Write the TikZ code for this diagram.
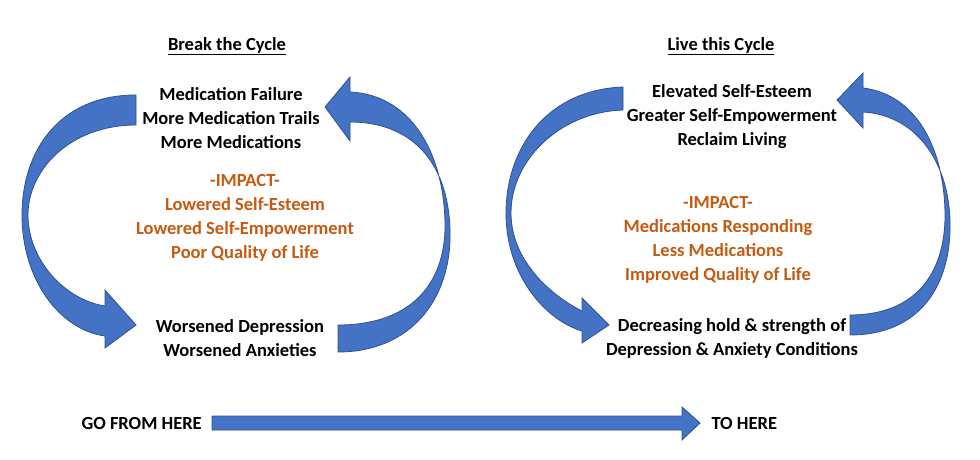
\documentclass[tikz,border=0pt]{standalone}
\usepackage{fontspec}
\setmainfont{Carlito}
\definecolor{ablue}{HTML}{4472C4}
\definecolor{dblue}{HTML}{2F528F}
\definecolor{org}{HTML}{C55A11}
\begin{document}
\begin{tikzpicture}[x=1pt,y=-1pt,
  arr/.style={fill=ablue,draw=dblue,line width=0.8pt,line join=miter},
  txt/.style={font=\bfseries\fontsize{18.5}{24}\selectfont,align=center,text=black},
  otxt/.style={txt,text=org}]
\useasboundingbox (0,0) rectangle (980,460);
% left cycle
\filldraw[arr] (136,95) .. controls (60,95) and (22,150) .. (22,215) .. controls (22,280) and (60,330) .. (105,336) -- (105,348) -- (136,325) -- (105,290) -- (105,306) .. controls (65,300) and (28,260) .. (28,215) .. controls (28,170) and (70,125) .. (136,125) -- cycle;
\filldraw[arr] (338,352) .. controls (410,352) and (452,300) .. (450,230) .. controls (448,160) and (410,122) .. (350,122) -- (350,141) -- (325,107) -- (350,77) -- (350,92) .. controls (415,95) and (446,160) .. (445,230) .. controls (443,290) and (405,325) .. (338,325) -- cycle;
% right cycle
\filldraw[arr] (623,87) .. controls (545,90) and (506,150) .. (506,213) .. controls (506,275) and (545,320) .. (582,331) -- (582,343) -- (609,325) -- (582,298) -- (582,311) .. controls (550,295) and (511,260) .. (511,213) .. controls (511,160) and (560,112) .. (623,110) -- cycle;
\filldraw[arr] (850,335) .. controls (920,335) and (952,285) .. (950,220) .. controls (948,160) and (915,115) .. (863,112) -- (863,128) -- (837,100) -- (863,73) -- (863,88) .. controls (920,95) and (946,155) .. (945,220) .. controls (943,280) and (910,315) .. (850,315) -- cycle;
% bottom arrow
\filldraw[arr] (212,416) -- (682,416) -- (682,407) -- (700,423) -- (682,440) -- (682,430) -- (212,430) -- cycle;
% texts
\node[txt] (t1) at (227,46) {\underline{Break the Cycle}};
\node[txt] (t2) at (721,46) {\underline{Live this Cycle}};
\node[txt] (a1) at (231,118) {Medication Failure\\More Medication Trails\\More Medications};
\node[otxt] (a2) at (245,218) {-IMPACT-\\Lowered Self-Esteem\\Lowered Self-Empowerment\\Poor Quality of Life};
\node[txt] (a3) at (240,338) {Worsened Depression\\Worsened Anxieties};
\node[txt] (b1) at (732,117) {Elevated Self-Esteem\\Greater Self-Empowerment\\Reclaim Living};
\node[otxt] (b2) at (718,240) {-IMPACT-\\Medications Responding\\Less Medications\\Improved Quality of Life};
\node[txt] (b3) at (732,338) {Decreasing hold \& strength of\\Depression \& Anxiety Conditions};
\node[txt,anchor=west] (g1) at (78,423) {GO FROM HERE};
\node[txt,anchor=west] (g2) at (708,423) {TO HERE};
\end{tikzpicture}
\end{document}
